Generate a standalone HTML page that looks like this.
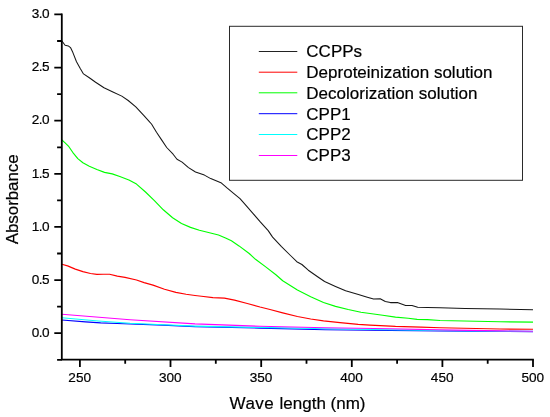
<!DOCTYPE html>
<html><head><meta charset="utf-8"><title>Absorbance</title>
<style>html,body{margin:0;padding:0;background:#fff}svg{display:block}text{font-family:"Liberation Sans",Arial,sans-serif;fill:#000;stroke:#000;stroke-width:0.2px}</style></head>
<body>
<svg width="550" height="417" viewBox="0 0 550 417">
<rect width="550" height="417" fill="#fff"/>
<polyline fill="none" stroke="#0000ff" stroke-width="1.15" stroke-linejoin="round" points="61.9,320.0 85.5,321.9 100.7,322.9 117.0,323.5 163.0,325.1 195.0,326.6 260.0,328.1 325.0,329.7 390.0,330.5 440.0,330.9 500.0,331.4 533.0,331.6"/>
<polyline fill="none" stroke="#00ffff" stroke-width="1.15" stroke-linejoin="round" points="61.9,317.8 98.2,321.0 130.0,323.3 163.0,324.8 195.0,326.1 260.0,327.4 325.0,328.8 390.0,329.7 440.0,330.5 500.0,331.2 533.0,331.4"/>
<polyline fill="none" stroke="#ff00ff" stroke-width="1.15" stroke-linejoin="round" points="61.9,314.3 130.0,319.7 195.0,323.9 260.0,326.3 325.0,327.7 390.0,328.7 440.0,329.9 500.0,330.9 533.0,331.2"/>
<polyline fill="none" stroke="#ff0000" stroke-width="1.15" stroke-linejoin="round" points="61.9,264.3 67.6,265.9 75.3,269.1 82.9,271.6 90.5,273.5 96.9,274.4 103.3,274.2 109.6,274.2 117.3,276.1 125.0,277.4 136.5,280.0 144.1,282.6 153.0,285.1 164.5,289.2 175.9,292.4 186.1,294.3 195.0,295.5 201.5,296.3 212.9,297.6 224.4,298.1 234.5,300.1 247.3,303.5 260.0,307.0 270.0,309.5 282.7,312.9 297.4,316.5 310.7,319.0 323.5,320.9 340.0,322.6 358.2,324.4 370.0,325.1 395.5,326.4 420.9,327.1 440.0,327.7 500.0,329.0 533.0,329.3"/>
<polyline fill="none" stroke="#00ff00" stroke-width="1.15" stroke-linejoin="round" points="61.9,140.0 65.1,142.9 68.9,146.7 72.7,152.3 77.8,158.6 82.9,162.8 89.3,166.3 96.9,169.5 104.5,172.4 112.2,173.9 119.8,176.5 128.9,180.0 136.5,184.1 145.5,192.0 154.4,200.6 163.3,209.8 172.6,217.8 181.5,223.5 190.5,227.4 199.4,230.2 209.5,232.7 218.5,235.0 226.1,238.2 231.4,240.8 239.0,245.9 249.2,253.5 255.5,259.3 265.7,266.9 275.9,274.8 282.7,280.8 297.4,290.1 310.7,296.7 323.5,302.5 335.5,306.4 348.2,309.5 360.9,312.3 373.6,314.0 382.7,315.2 395.5,317.1 408.2,318.3 417.1,319.4 427.3,319.6 440.0,320.5 500.0,321.8 533.0,322.1"/>
<polyline fill="none" stroke="#161616" stroke-width="1.05" stroke-linejoin="round" points="61.9,41.0 65.1,45.3 68.3,45.9 70.5,47.6 72.9,52.6 76.5,61.8 80.4,68.8 83.5,73.9 89.3,77.7 95.6,82.2 104.0,87.8 112.9,91.9 121.8,96.1 128.2,100.5 135.8,106.9 143.5,115.2 149.8,122.2 151.5,124.0 156.5,132.3 161.6,139.9 166.7,147.5 173.1,154.2 177.0,159.2 182.1,162.1 188.5,167.6 195.5,172.0 204.4,175.1 210.7,178.6 220.9,182.7 227.3,188.2 233.6,193.3 240.0,198.7 245.3,204.7 252.9,213.3 260.5,222.2 268.2,230.6 272.6,237.1 281.5,246.6 290.5,255.5 296.8,261.7 301.9,264.5 308.3,270.2 317.6,276.7 324.6,281.5 335.5,286.4 345.6,290.8 358.4,294.5 367.3,297.2 373.6,299.1 380.2,298.7 385.3,301.5 390.4,302.6 397.4,302.6 405.6,305.4 412.0,305.4 417.7,307.3 427.3,307.5 440.0,307.8 465.0,308.4 500.0,309.1 533.0,309.8"/>
<g stroke="#000" stroke-width="1.8" fill="none" stroke-linecap="butt">
<path d="M61.8 13.5V359.7H533.9"/>
<path d="M61.8 359.8H57.1M61.8 333.2H54.3M61.8 306.6H57.1M61.8 280.1H54.3M61.8 253.5H57.1M61.8 226.9H54.3M61.8 200.4H57.1M61.8 173.8H54.3M61.8 147.3H57.1M61.8 120.7H54.3M61.8 94.1H57.1M61.8 67.6H54.3M61.8 41.0H57.1M61.8 14.4H54.3"/>
<path d="M79.9 359.7V366.9M125.2 359.7V363.7M170.5 359.7V366.9M215.8 359.7V363.7M261.2 359.7V366.9M306.5 359.7V363.7M351.8 359.7V366.9M397.1 359.7V363.7M442.4 359.7V366.9M487.7 359.7V363.7M533.0 359.7V366.9"/>
</g>
<g font-size="13.6px">
<text x="49.2" y="336.9" text-anchor="end" letter-spacing="-0.45">0.0</text>
<text x="49.2" y="283.8" text-anchor="end" letter-spacing="-0.45">0.5</text>
<text x="49.2" y="230.7" text-anchor="end" letter-spacing="-0.45">1.0</text>
<text x="49.2" y="177.6" text-anchor="end" letter-spacing="-0.45">1.5</text>
<text x="49.2" y="124.4" text-anchor="end" letter-spacing="-0.45">2.0</text>
<text x="49.2" y="71.3" text-anchor="end" letter-spacing="-0.45">2.5</text>
<text x="49.2" y="18.2" text-anchor="end" letter-spacing="-0.45">3.0</text>
<text x="79.7" y="382.1" text-anchor="middle">250</text>
<text x="170.3" y="382.1" text-anchor="middle">300</text>
<text x="261.0" y="382.1" text-anchor="middle">350</text>
<text x="351.6" y="382.1" text-anchor="middle">400</text>
<text x="442.2" y="382.1" text-anchor="middle">450</text>
<text x="532.8" y="382.1" text-anchor="middle">500</text>
</g>
<text y="408.6" font-size="17px"><tspan x="229.6" letter-spacing="0.43">Wave</tspan> <tspan x="365.5" text-anchor="end">length (nm)</tspan></text>
<text transform="translate(17.9 199.3) rotate(-90)" font-size="17px" letter-spacing="-0.08" text-anchor="middle">Absorbance</text>
<rect x="229.5" y="26.3" width="293" height="154" fill="#fff" stroke="#2a2a2a" stroke-width="1"/>
<g font-size="17px">
<line x1="258.8" x2="297.3" y1="51.5" y2="51.5" stroke="#222222" stroke-width="1"/>
<text x="306.35" y="56.8">CCPPs</text>
<line x1="258.8" x2="297.3" y1="72.2" y2="72.2" stroke="#ff0000" stroke-width="1"/>
<text x="306.35" y="77.6">Deproteinization solution</text>
<line x1="258.8" x2="297.3" y1="92.8" y2="92.8" stroke="#00ff00" stroke-width="1"/>
<text x="306.35" y="98.7">Decolorization solution</text>
<line x1="258.8" x2="297.3" y1="113.7" y2="113.7" stroke="#0000ff" stroke-width="1"/>
<text x="306.35" y="119.5">CPP1</text>
<line x1="258.8" x2="297.3" y1="134.5" y2="134.5" stroke="#00ffff" stroke-width="1"/>
<text x="306.35" y="140.0">CPP2</text>
<line x1="258.8" x2="297.3" y1="155.5" y2="155.5" stroke="#ff00ff" stroke-width="1"/>
<text x="306.35" y="160.8">CPP3</text>
</g>
</svg>
</body></html>
